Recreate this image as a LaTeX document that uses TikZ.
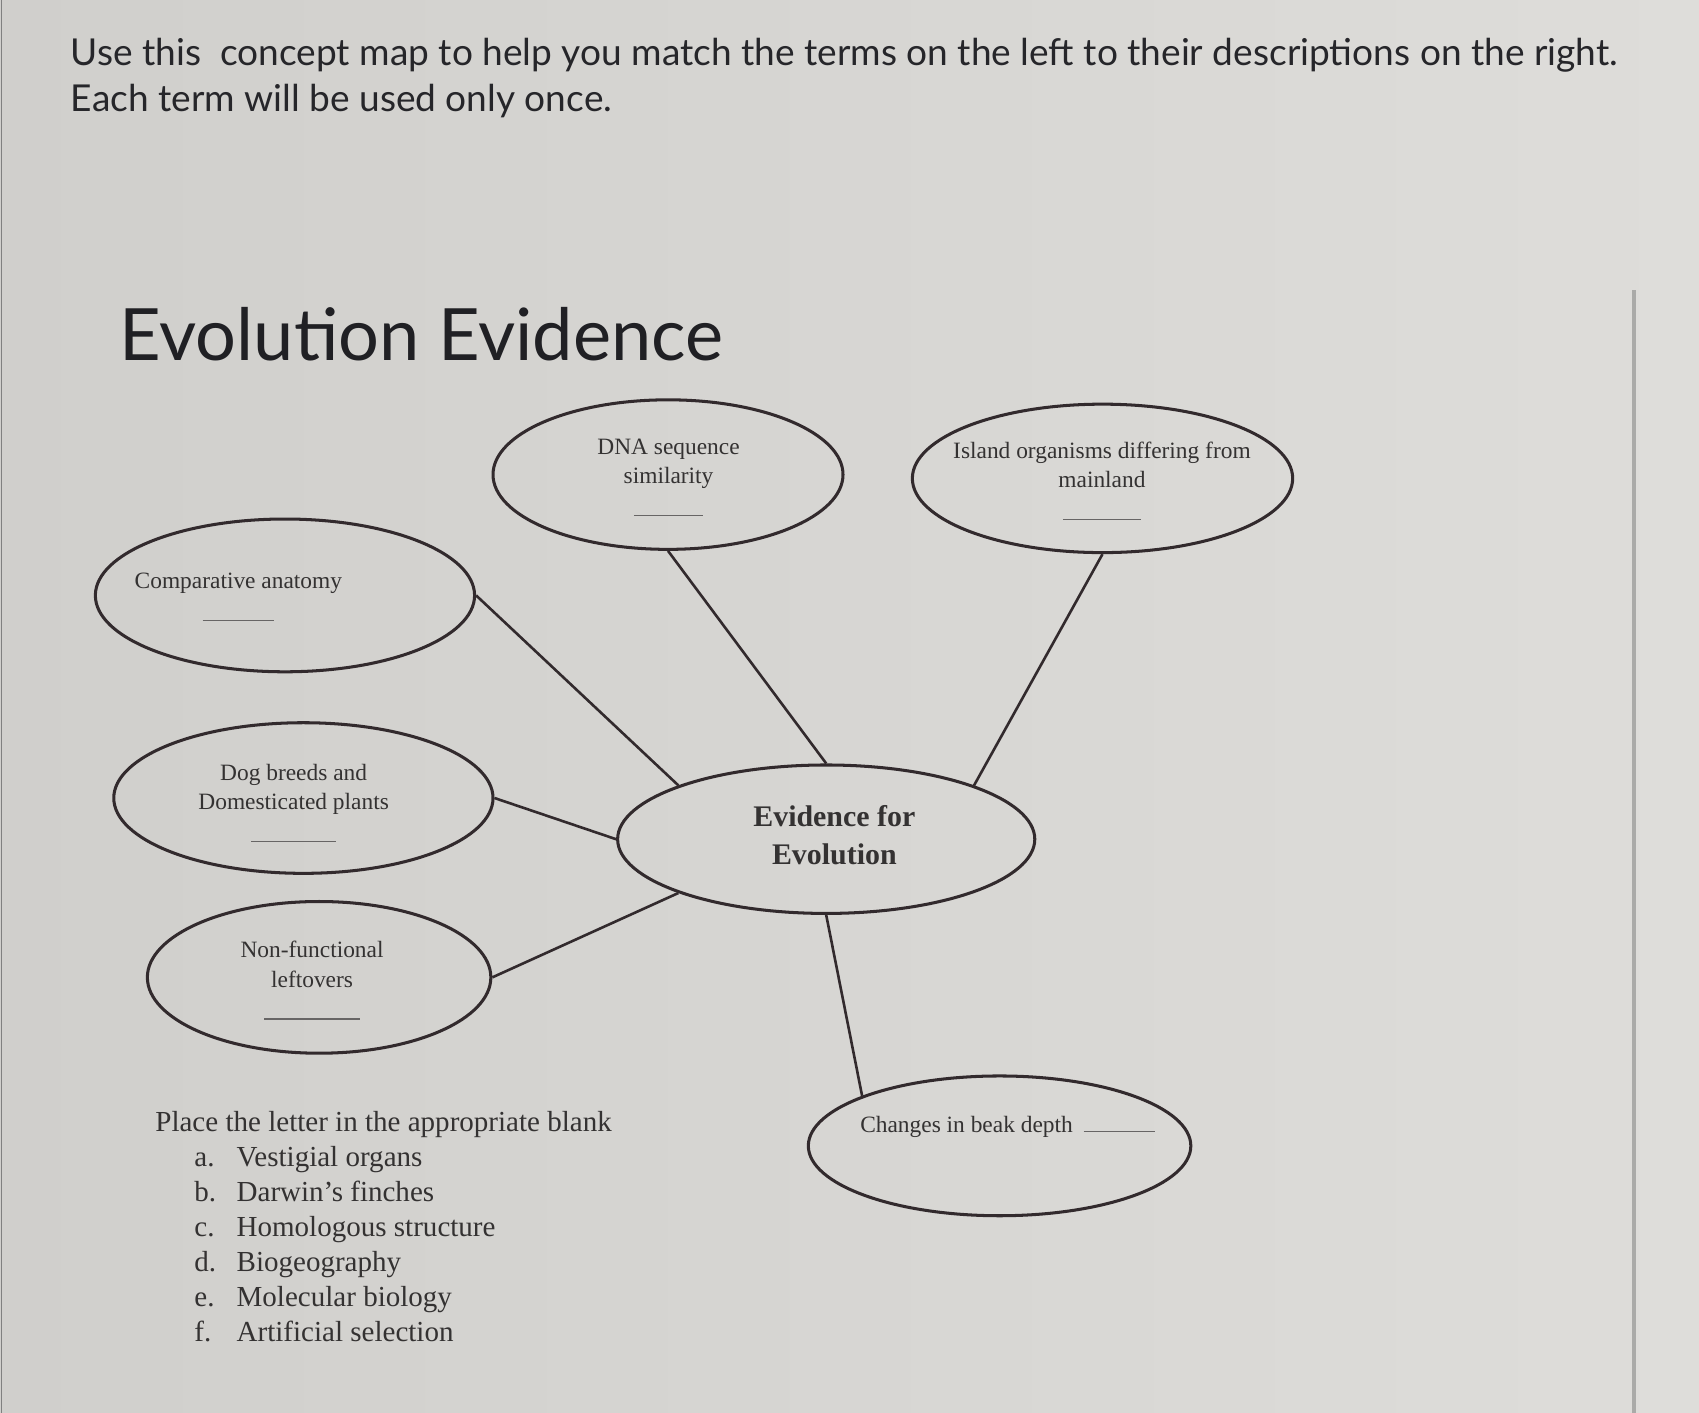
\documentclass[tikz,border=0pt]{standalone}
\usepackage{fontspec}
\setmainfont{Liberation Serif}
\newfontfamily\latofont{Lato}
\usepackage{xcolor}
\usepackage{tikz}
\usetikzlibrary{shapes}
\definecolor{paper}{RGB}{208,207,204}
\definecolor{paperlight}{RGB}{222,221,218}
\definecolor{ink}{RGB}{50,42,45}
\definecolor{printtext}{RGB}{52,50,50}
\definecolor{screentext}{RGB}{38,38,42}
\definecolor{panelline}{RGB}{170,170,168}
\tikzset{%
  every bubble/.style={
    ellipse,
    draw=ink,
    line width=1.4pt,
    inner sep=0pt
  },
  bubble text/.style={
    text=printtext,
    align=center,
    font=\fontsize{10.8}{13.5}\selectfont
  },
  list text/.style={
    anchor=base west,
    inner sep=0pt,
    text=printtext,
    font=\fontsize{13.4}{16}\selectfont
  },
  screen text/.style={
    anchor=base west,
    inner sep=0pt,
    text=screentext,
    font=\latofont\fontsize{17.1}{20}\selectfont
  },
  link/.style={draw=ink, line width=1.2pt},
}
\newcommand{\blank}[1]{\textcolor{printtext!75}{\rule{#1pt}{0.6pt}}}

\begin{document}
\begin{tikzpicture}[x=0.5pt, y=-0.5pt]
      \useasboundingbox (0,0) rectangle (1568,1304);
      \shade[left color=paper, right color=paperlight] (0,0) rectangle (1568,1304);
      \draw[gray, line width=0.8pt] (1.5,0) -- (1.5,1304);
      \draw[panelline, line width=1.6pt] (1508,268) -- (1508,1304);

      % Instructions
      \node[screen text] (task) at (65,60)
        {Use this \ concept map to help you match the terms on the left to their descriptions on the right.};
      \node[screen text] (once) at (65,103) {Each term will be used only once.};

      % Heading
      \node[screen text, text=screentext!85!black, font=\latofont\fontsize{33.3}{40}\selectfont] (heading) at (110,333) {Evolution Evidence};

      % Evidence for Evolution
      \node[every bubble, minimum width=192.5pt, minimum height=68.5pt] (evidence) at (762.5,774.5) {};
      \node[bubble text, font=\bfseries\fontsize{13.8}{17.5}\selectfont] (evidence text) at (770,771) {Evidence for\\Evolution};

      % DNA sequence similarity
      \node[every bubble, minimum width=161.5pt, minimum height=69pt] (dna) at (616.5,438) {};
      \node[bubble text] (dna text) at (617,441) {DNA sequence\\similarity\\[1.5pt]\blank{32}};

      % Island organisms
      \node[every bubble, minimum width=175.5pt, minimum height=68.5pt] (island) at (1017.5,441.5) {};
      \node[bubble text] (island text) at (1017,444) {Island organisms differing from\\mainland\\[1.5pt]\blank{36}};

      % Comparative anatomy
      \node[every bubble, minimum width=175pt, minimum height=70.5pt] (anatomy) at (263,549.5) {};
      \node[bubble text] (anatomy text) at (220,551) {Comparative anatomy\\[1.5pt]\blank{33}};

      % Dog breeds
      \node[every bubble, minimum width=175pt, minimum height=69.5pt] (breeds) at (280,736.5) {};
      \node[bubble text] (breeds text) at (271,741) {Dog breeds and\\Domesticated plants\\[1.5pt]\blank{39}};

      % Non-functional leftovers
      \node[every bubble, minimum width=158.5pt, minimum height=70pt] (leftovers) at (294.5,902) {};
      \node[bubble text] (leftovers text) at (288,905) {Non-functional\\leftovers\\[1.5pt]\blank{44}};

      % Changes in beak depth
      \node[every bubble, minimum width=176.5pt, minimum height=64.5pt] (beak) at (922.5,1057.5) {};
      \node[bubble text] (beak text) at (930,1040) {Changes in beak depth\hspace{5pt}\blank{33}};

      % spokes -> \evidence
      \path[link] (dna.south) -- (evidence.north);
      \path[link] (island.south) -- (evidence.20);
      \path[link] (anatomy.east) -- (evidence.160);
      \path[link] (breeds.east) -- (evidence.west);
      \path[link] (leftovers.east) -- (evidence.200);
      \path[link] (evidence.south) -- (beak.160);

      % Answer letters
      \node[list text] (place) at (143,1044) {Place the letter in the appropriate blank};
      \foreach \letter/\term [count=\i] in {a./Vestigial organs, b./Darwin’s finches, c./Homologous structure,
          d./Biogeography, e./Molecular biology, f./Artificial selection} {
        \node[list text] (letter\i) at (179,1044+32.4*\i) {\letter};
        \node[list text] (term\i) at (218,1044+32.4*\i) {\term};
      }
\end{tikzpicture}
\end{document}
